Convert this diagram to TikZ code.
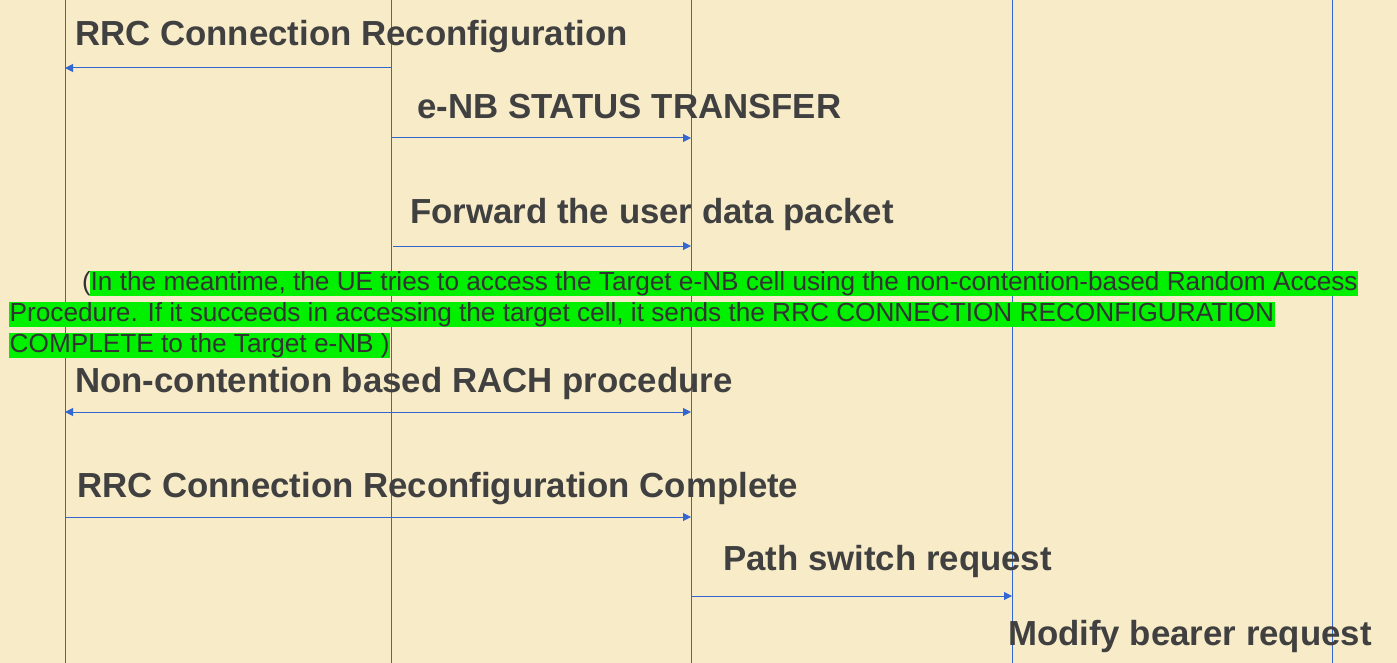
\documentclass[tikz,border=0pt]{standalone}
\usepackage{fontspec}
\setmainfont{Liberation Sans}
\usetikzlibrary{arrows.meta}
\definecolor{bg}{HTML}{F8EBC8}
\definecolor{ln}{HTML}{3366D0}
\definecolor{tx}{HTML}{404040}
\definecolor{hl}{HTML}{00F000}
\begin{document}
\begin{tikzpicture}[x=1pt,y=-1pt,
  msg/.style={font=\bfseries\fontsize{34.8}{40}\selectfont,text=tx,anchor=base west,inner sep=0},
  gtxt/.style={font=\fontsize{26.2}{30}\selectfont,text=black!80,anchor=base west,inner sep=0.5,fill=hl},
  life/.style={draw=ln,line width=1},
  arr/.style={draw=ln,line width=1,-{Triangle[length=8,width=8]}},
  darr/.style={draw=ln,line width=1,{Triangle[length=8,width=8]}-{Triangle[length=8,width=8]}}]
\fill[bg] (0,0) rectangle (1397,663);
\useasboundingbox (0,0) rectangle (1397,663);
\foreach \n/\x in {a/65,b/391,c/691,d/1012,e/1332}{
  \coordinate (\n0) at (\x,0); \coordinate (\n1) at (\x,663);
  \draw[life] (\n0) -- (\n1);}
\coordinate (p1) at (391,68); \coordinate (q1) at (65,68);
\draw[arr] (p1) -- (q1);
\node[msg] (m1) at (75,46) {RRC Connection Reconfiguration};
\coordinate (p2) at (391,138); \coordinate (q2) at (691,138);
\draw[arr] (p2) -- (q2);
\node[msg] (m2) at (417,119) {e-NB STATUS TRANSFER};
\coordinate (p3) at (393,246); \coordinate (q3) at (691,246);
\draw[arr] (p3) -- (q3);
\node[msg] (m3) at (410,224) {Forward the user data packet};
\node[font=\fontsize{26.2}{30}\selectfont,text=black!80,anchor=base west,inner sep=0] (g0) at (82,290) {(};
\node[gtxt] (g1) at (90,290) {In the meantime, the UE tries to access the Target e-NB cell using the non-contention-based Random Access };
\node[gtxt] (g2) at (9,321) {Procedure. If it succeeds in accessing the target cell, it sends the RRC CONNECTION RECONFIGURATION };
\node[gtxt] (g3) at (9,352) {COMPLETE to the Target e-NB )};
\coordinate (p4) at (65,412); \coordinate (q4) at (691,412);
\draw[darr] (p4) -- (q4);
\node[msg] (m4) at (75,392) {Non-contention based RACH procedure};
\coordinate (p5) at (65,517); \coordinate (q5) at (691,517);
\draw[arr] (p5) -- (q5);
\node[msg] (m5) at (77,497) {RRC Connection Reconfiguration Complete};
\coordinate (p6) at (691,596); \coordinate (q6) at (1012,596);
\draw[arr] (p6) -- (q6);
\node[msg] (m6) at (723,570) {Path switch request};
\node[msg] (m7) at (1008,645) {Modify bearer request};
\end{tikzpicture}
\end{document}
